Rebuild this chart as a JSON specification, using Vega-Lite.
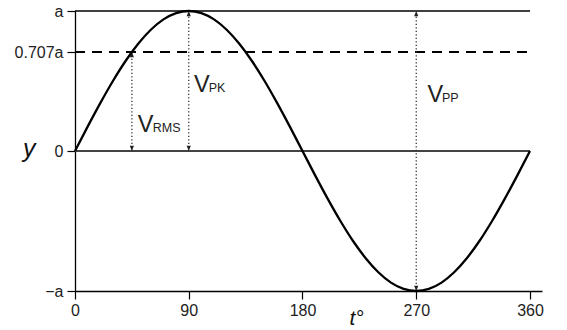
{
  "$schema": "https://vega.github.io/schema/vega-lite/v6.json",
  "width": 467,
  "height": 280,
  "autosize": "none",
  "padding": {"left": 75, "top": 11, "right": 25, "bottom": 39},
  "background": "white",
  "config": {"view": {"stroke": null}, "font": "Liberation Sans"},
  "datasets": {
    "curve": [
      {"t": 0, "y": 0}, {"t": 10, "y": 0.174}, {"t": 20, "y": 0.342}, {"t": 30, "y": 0.5},
      {"t": 40, "y": 0.643}, {"t": 50, "y": 0.766}, {"t": 60, "y": 0.866}, {"t": 70, "y": 0.94},
      {"t": 80, "y": 0.985}, {"t": 90, "y": 1}, {"t": 100, "y": 0.985}, {"t": 110, "y": 0.94},
      {"t": 120, "y": 0.866}, {"t": 130, "y": 0.766}, {"t": 140, "y": 0.643}, {"t": 150, "y": 0.5},
      {"t": 160, "y": 0.342}, {"t": 170, "y": 0.174}, {"t": 180, "y": 0}, {"t": 190, "y": -0.174},
      {"t": 200, "y": -0.342}, {"t": 210, "y": -0.5}, {"t": 220, "y": -0.643}, {"t": 230, "y": -0.766},
      {"t": 240, "y": -0.866}, {"t": 250, "y": -0.94}, {"t": 260, "y": -0.985}, {"t": 270, "y": -1},
      {"t": 280, "y": -0.985}, {"t": 290, "y": -0.94}, {"t": 300, "y": -0.866}, {"t": 310, "y": -0.766},
      {"t": 320, "y": -0.643}, {"t": 330, "y": -0.5}, {"t": 340, "y": -0.342}, {"t": 350, "y": -0.174},
      {"t": 360, "y": 0}
    ],
    "hlines": [
      {"kind": "top", "y": 1, "from": 0, "to": 360},
      {"kind": "dash", "y": 0.707, "from": 0, "to": 360},
      {"kind": "zero", "y": 0, "from": 0, "to": 360}
    ],
    "arrows": [
      {"t": 45, "lo": 0, "hi": 0.707},
      {"t": 90, "lo": 0, "hi": 1},
      {"t": 270, "lo": -1, "hi": 1}
    ],
    "labels": [
      {"part": "V", "t": 49.6, "y": 0.134, "text": "V"},
      {"part": "sub", "t": 61.5, "y": 0.136, "text": "RMS"},
      {"part": "V", "t": 94.2, "y": 0.419, "text": "V"},
      {"part": "sub", "t": 105.8, "y": 0.421, "text": "PK"},
      {"part": "V", "t": 279, "y": 0.35, "text": "V"},
      {"part": "sub", "t": 290.4, "y": 0.35, "text": "PP"}
    ]
  },
  "layer": [
    {
      "data": {"name": "hlines"},
      "transform": [{"filter": "datum.kind == 'top'"}],
      "mark": {"type": "rule", "color": "#000", "strokeWidth": 1.3},
      "encoding": {
        "x": {"field": "from", "type": "quantitative", "scale": {"domain": [0, 369.5], "nice": false, "zero": false},
          "axis": {
            "values": [0, 90, 180, 270, 360], "tickSize": 8, "tickColor": "#000", "domainColor": "#000",
            "domainWidth": 1.3, "tickWidth": 1.2, "grid": false, "labelFontSize": 16, "labelColor": "#222",
            "labelPadding": 3, "labelFont": "Liberation Sans", "labelFlush": false, "labelOverlap": false,
            "title": "t°", "titleFontStyle": "italic", "titleFontWeight": "normal", "titleFontSize": 21,
            "titleFont": "Liberation Sans", "titleColor": "#111", "titleX": 281, "titleY": 33,
            "titleAlign": "center", "titleBaseline": "alphabetic"
          }},
        "x2": {"field": "to"},
        "y": {"field": "y", "type": "quantitative", "scale": {"domain": [-1, 1], "nice": false, "zero": false},
          "axis": {
            "values": [-1, 0, 0.707, 1], "tickSize": 8, "tickColor": "#000", "domainColor": "#000",
            "domainWidth": 1.3, "tickWidth": 1.2, "grid": false, "labelFontSize": 16, "labelColor": "#222",
            "labelPadding": 4, "labelFont": "Liberation Sans", "labelFlush": false, "labelOverlap": false,
            "labelExpr": "datum.value == 1 ? 'a' : datum.value == -1 ? '−a' : datum.value == 0 ? '0' : '0.707a'",
            "title": "y", "titleAngle": 0, "titleFontStyle": "italic", "titleFontWeight": "normal",
            "titleFontSize": 25, "titleFont": "Liberation Sans", "titleColor": "#111",
            "titleX": -40, "titleY": 145, "titleAlign": "right", "titleBaseline": "alphabetic"
          }}
      }
    },
    {
      "data": {"name": "hlines"},
      "transform": [{"filter": "datum.kind == 'dash'"}],
      "mark": {"type": "rule", "color": "#000", "strokeWidth": 2, "strokeDash": [10, 7]},
      "encoding": {
        "x": {"field": "from", "type": "quantitative", "scale": {"domain": [0, 369.5], "nice": false, "zero": false}},
        "x2": {"field": "to"},
        "y": {"field": "y", "type": "quantitative", "scale": {"domain": [-1, 1], "nice": false, "zero": false}}
      }
    },
    {
      "data": {"name": "hlines"},
      "transform": [{"filter": "datum.kind == 'zero'"}],
      "mark": {"type": "rule", "color": "#444", "strokeWidth": 2.2},
      "encoding": {
        "x": {"field": "from", "type": "quantitative", "scale": {"domain": [0, 369.5], "nice": false, "zero": false}},
        "x2": {"field": "to"},
        "y": {"field": "y", "type": "quantitative", "scale": {"domain": [-1, 1], "nice": false, "zero": false}}
      }
    },
    {
      "data": {"name": "arrows"},
      "mark": {"type": "rule", "color": "#333", "strokeWidth": 1.3, "strokeDash": [1.3, 2.2]},
      "encoding": {
        "x": {"field": "t", "type": "quantitative", "scale": {"domain": [0, 369.5], "nice": false, "zero": false}},
        "y": {"field": "lo", "type": "quantitative", "scale": {"domain": [-1, 1], "nice": false, "zero": false}},
        "y2": {"field": "hi"}
      }
    },
    {
      "data": {"name": "arrows"},
      "mark": {"type": "point", "shape": "M0,0L-0.4,-1L0.4,-1Z", "filled": true, "color": "#222", "opacity": 1, "size": 110, "strokeWidth": 0},
      "encoding": {
        "x": {"field": "t", "type": "quantitative", "scale": {"domain": [0, 369.5], "nice": false, "zero": false}},
        "y": {"field": "lo", "type": "quantitative", "scale": {"domain": [-1, 1], "nice": false, "zero": false}}
      }
    },
    {
      "data": {"name": "arrows"},
      "mark": {"type": "point", "shape": "M0,0L-0.4,1L0.4,1Z", "filled": true, "color": "#222", "opacity": 1, "size": 110, "strokeWidth": 0},
      "encoding": {
        "x": {"field": "t", "type": "quantitative", "scale": {"domain": [0, 369.5], "nice": false, "zero": false}},
        "y": {"field": "hi", "type": "quantitative", "scale": {"domain": [-1, 1], "nice": false, "zero": false}}
      }
    },
    {
      "data": {"name": "curve"},
      "mark": {"type": "line", "color": "#000", "strokeWidth": 2.3, "interpolate": "monotone"},
      "encoding": {
        "x": {"field": "t", "type": "quantitative", "scale": {"domain": [0, 369.5], "nice": false, "zero": false}},
        "y": {"field": "y", "type": "quantitative", "scale": {"domain": [-1, 1], "nice": false, "zero": false}}
      }
    },
    {
      "data": {"name": "labels"},
      "transform": [{"filter": "datum.part == 'V'"}],
      "mark": {"type": "text", "align": "left", "baseline": "alphabetic", "fontSize": 23.5, "font": "Liberation Sans", "color": "#222"},
      "encoding": {
        "x": {"field": "t", "type": "quantitative", "scale": {"domain": [0, 369.5], "nice": false, "zero": false}},
        "y": {"field": "y", "type": "quantitative", "scale": {"domain": [-1, 1], "nice": false, "zero": false}},
        "text": {"field": "text"}
      }
    },
    {
      "data": {"name": "labels"},
      "transform": [{"filter": "datum.part == 'sub'"}],
      "mark": {"type": "text", "align": "left", "baseline": "alphabetic", "fontSize": 12.5, "font": "Liberation Sans", "color": "#222"},
      "encoding": {
        "x": {"field": "t", "type": "quantitative", "scale": {"domain": [0, 369.5], "nice": false, "zero": false}},
        "y": {"field": "y", "type": "quantitative", "scale": {"domain": [-1, 1], "nice": false, "zero": false}},
        "text": {"field": "text"}
      }
    }
  ]
}
